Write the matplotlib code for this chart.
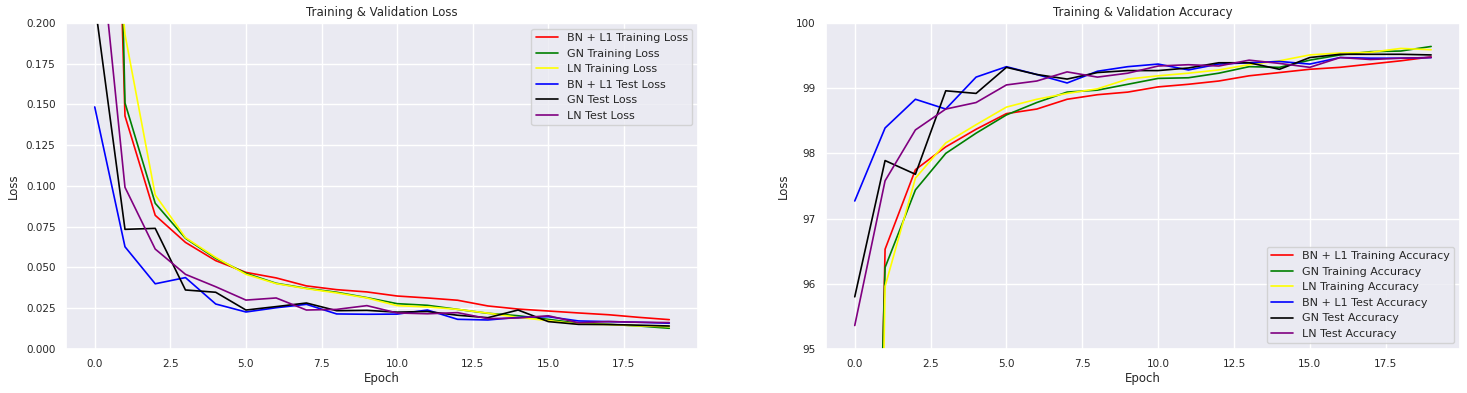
import matplotlib
matplotlib.use('Agg')
import matplotlib.pyplot as plt
import seaborn as sns
import numpy as np

epochs = list(range(20))

# loss values per epoch
bn_train_loss = [0.78, 0.143, 0.082, 0.0654, 0.0542, 0.047, 0.0436, 0.0387, 0.0364, 0.035,
                 0.0325, 0.0313, 0.0299, 0.0264, 0.0245, 0.0233, 0.0221, 0.021, 0.0194, 0.018]
gn_train_loss = [0.97, 0.151, 0.0894, 0.0679, 0.0556, 0.0464, 0.0403, 0.0372, 0.0348, 0.0315,
                 0.0278, 0.0268, 0.0243, 0.0219, 0.0204, 0.0182, 0.0158, 0.0151, 0.0141, 0.0127]
ln_train_loss = [0.40, 0.193, 0.0945, 0.0683, 0.0562, 0.0458, 0.0401, 0.037, 0.0344, 0.0313,
                 0.0266, 0.0258, 0.0243, 0.022, 0.0194, 0.0174, 0.0153, 0.015, 0.0142, 0.0137]
bn_test_loss = [0.1485, 0.0627, 0.040, 0.0438, 0.0276, 0.0227, 0.0253, 0.0274, 0.0215, 0.0213,
                0.0214, 0.0239, 0.0182, 0.0178, 0.0194, 0.0198, 0.0172, 0.0168, 0.0164, 0.0158]
gn_test_loss = [0.2126, 0.0734, 0.074, 0.0362, 0.0348, 0.0239, 0.026, 0.0282, 0.0235, 0.0237,
                0.0226, 0.023, 0.0207, 0.0192, 0.0239, 0.0168, 0.0151, 0.015, 0.0146, 0.0141]
ln_test_loss = [0.282, 0.0992, 0.0613, 0.0458, 0.0382, 0.030, 0.0313, 0.0239, 0.0243, 0.0266,
                0.0221, 0.0216, 0.0223, 0.0186, 0.019, 0.0204, 0.0161, 0.0168, 0.0164, 0.0162]

# accuracy values per epoch
bn_train_acc = [75.0, 96.53, 97.75, 98.10, 98.37, 98.61, 98.68, 98.83, 98.90, 98.94,
                99.02, 99.06, 99.11, 99.19, 99.24, 99.29, 99.32, 99.37, 99.42, 99.48]
gn_train_acc = [80.0, 96.25, 97.44, 98.00, 98.31, 98.59, 98.78, 98.94, 98.97, 99.06,
                99.15, 99.16, 99.23, 99.33, 99.32, 99.43, 99.51, 99.56, 99.57, 99.64]
ln_train_acc = [70.0, 95.96, 97.62, 98.16, 98.44, 98.71, 98.83, 98.92, 98.99, 99.14,
                99.19, 99.23, 99.28, 99.36, 99.42, 99.51, 99.54, 99.55, 99.61, 99.59]
bn_test_acc = [97.27, 98.39, 98.83, 98.68, 99.17, 99.33, 99.21, 99.08, 99.26, 99.33,
               99.37, 99.28, 99.37, 99.39, 99.41, 99.37, 99.47, 99.46, 99.46, 99.47]
gn_test_acc = [95.80, 97.89, 97.68, 98.96, 98.92, 99.32, 99.21, 99.14, 99.24, 99.27,
               99.27, 99.31, 99.39, 99.39, 99.29, 99.47, 99.52, 99.52, 99.52, 99.51]
ln_test_acc = [95.36, 97.58, 98.36, 98.68, 98.78, 99.05, 99.11, 99.25, 99.17, 99.23,
               99.34, 99.36, 99.34, 99.43, 99.38, 99.32, 99.47, 99.44, 99.46, 99.47]

colors = ['red', 'green', 'yellow', 'blue', 'black', 'purple']

sns.set_theme(style='darkgrid')
plt.rcParams['font.family'] = ['DejaVu Sans']
plt.rcParams['xtick.labelsize'] = 7.5
plt.rcParams['ytick.labelsize'] = 7.5
plt.rcParams['xtick.major.size'] = 0
plt.rcParams['ytick.major.size'] = 0
plt.rcParams['xtick.major.pad'] = 7.5
plt.rcParams['ytick.major.pad'] = 7.5

fig = plt.figure(figsize=(14.67, 3.93), dpi=100)
ax1 = fig.add_axes([0.045, 0.112, 0.4308, 0.8295])
ax2 = fig.add_axes([0.563, 0.112, 0.4322, 0.8295])

loss_series = [bn_train_loss, gn_train_loss, ln_train_loss, bn_test_loss, gn_test_loss, ln_test_loss]
loss_labels = ['BN + L1 Training Loss', 'GN Training Loss', 'LN Training Loss',
               'BN + L1 Test Loss', 'GN Test Loss', 'LN Test Loss']
for s, lab, c in zip(loss_series, loss_labels, colors):
    ax1.plot(epochs, s, color=c, label=lab, lw=1.2)
ax1.set_ylim(0, 0.2)
ax1.set_title('Training & Validation Loss', fontsize=8.5, pad=5)
ax1.set_xlabel('Epoch', fontsize=8.5, labelpad=2)
ax1.set_ylabel('Loss', fontsize=8.5, labelpad=4)
ax1.legend(loc='upper right', fontsize=8)

acc_series = [bn_train_acc, gn_train_acc, ln_train_acc, bn_test_acc, gn_test_acc, ln_test_acc]
acc_labels = ['BN + L1 Training Accuracy', 'GN Training Accuracy', 'LN Training Accuracy',
              'BN + L1 Test Accuracy', 'GN Test Accuracy', 'LN Test Accuracy']
for s, lab, c in zip(acc_series, acc_labels, colors):
    ax2.plot(epochs, s, color=c, label=lab, lw=1.2)
ax2.set_ylim(95, 100)
ax2.set_title('Training & Validation Accuracy', fontsize=8.5, pad=5)
ax2.set_xlabel('Epoch', fontsize=8.5, labelpad=2)
ax2.set_ylabel('Loss', fontsize=8.5, labelpad=4)
ax2.legend(loc='lower right', fontsize=8)

fig.savefig('out.png', dpi=100)
